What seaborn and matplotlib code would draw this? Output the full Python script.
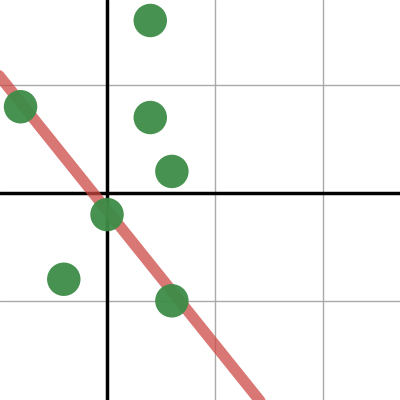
import matplotlib
matplotlib.use("Agg")
import matplotlib.pyplot as plt
import seaborn as sns
import numpy as np

xs = [0.4, -0.8, 0.4, 0.6, 0.0, -0.4, 0.6]
ys = [1.6, 0.8, 0.7, 0.2, -0.2, -0.8, -1.0]
slope = -1.25
intercept = -0.16

sns.set_style("white")
fig = plt.figure(figsize=(4, 4), dpi=100)
ax = fig.add_axes([0, 0, 1, 1])
ax.set_xlim(-0.99, 2.71)
ax.set_ylim(-1.92, 1.79)
for g in [1, 2]:
    ax.axvline(g, color="#aaaaaa", lw=1, zorder=0)
for g in [1, -1]:
    ax.axhline(g, color="#aaaaaa", lw=1, zorder=0)
ax.axvline(0, color="black", lw=2.5, zorder=1)
ax.axhline(0, color="black", lw=2.5, zorder=1)
lx = np.array([-1.2, 3.0])
ax.plot(lx, slope * lx + intercept, color="#cc4a44", alpha=0.75, lw=8, zorder=2)
sns.scatterplot(x=xs, y=ys, ax=ax, s=580, color="#3d8c47", alpha=0.95, edgecolor="none", zorder=3)
ax.set_xticks([]); ax.set_yticks([])
for s in ax.spines.values():
    s.set_visible(False)
fig.savefig("out.png", dpi=100)
